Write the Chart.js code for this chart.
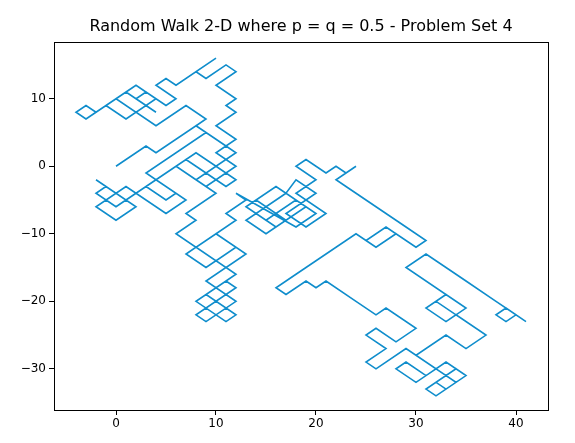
<!DOCTYPE html>
<html>
<head>
<style>
  html, body { margin: 0; padding: 0; background: #fff; }
  #wrap { width: 575px; height: 443px; }
</style>
<script src="https://cdn.jsdelivr.net/npm/chart.js"></script>
</head>
<body>
<div id="wrap"><canvas id="walk"></canvas></div>
<script>
// walk vertices (each leg is a diagonal run of steps)
const walkX = [0,3,4,8,11,10,12,9,8,10,12,11,9,7,4,2,0,-2,-1,-2,2,0,-2,1,5,7,4,3,5,6,3,9,11,12,10,12,11,12,10,12,11,9,8,10,6,5,4,6,5,3,2,4,1,0,2,1,-1,-2,-3,-4,-3,-2,0,2,4,2,4,7,9,8,10,12,10,8,6,8,10,7,8,6,8,7,9,10,8,10,12,10,11,9,12,9,8,12,11,8,11,12,9,12,11,13,10,12,11,13,12,18,20,16,13,15,18,16,14,17,15,13,17,19,16,14,17,18,20,17,19,21,18,20,18,19,21,22,23,24,22,23,29,31,30,28,26,25,27,28,26,24,18,16,17,19,20,21,24,26,27,30,28,26,25,27,25,26,29,32,30,28,29,31,33,34,32,33,35,34,31,32,34,30,33,35,37,34,33,31,33,35,34,32,33,29,31,33,35,38,40,39,38,39,41];
const walkY = [0,3,2,6,3,2,0,-3,-2,0,-2,-3,-1,1,-2,-4,-6,-4,-3,-2,-6,-8,-6,-3,-7,-5,-2,-3,-5,-4,-1,5,3,4,6,8,9,10,12,14,15,13,14,16,12,13,12,10,9,11,10,8,11,10,8,7,9,8,9,8,7,8,10,12,10,8,6,9,7,6,4,2,0,2,0,-2,-4,-7,-8,-10,-12,-13,-15,-14,-12,-10,-12,-14,-15,-17,-20,-23,-22,-18,-17,-20,-23,-22,-19,-16,-15,-13,-10,-8,-7,-5,-4,-9,-7,-3,-6,-8,-5,-3,-5,-8,-10,-8,-4,-6,-9,-7,-4,-2,-4,-7,-9,-7,-4,-2,0,1,-1,0,-1,0,-2,-3,-9,-11,-12,-10,-12,-11,-9,-10,-12,-10,-16,-18,-19,-17,-18,-17,-20,-22,-21,-24,-26,-24,-25,-27,-29,-30,-27,-30,-32,-30,-29,-31,-29,-30,-32,-33,-31,-30,-33,-34,-32,-28,-25,-27,-25,-22,-23,-21,-19,-21,-22,-20,-19,-15,-13,-15,-17,-20,-22,-23,-22,-21,-23];
const xTicks = [0, 10, 20, 30, 40];
const yTicks = [-30, -20, -10, 0, 10];

const points = walkX.map((x, i) => ({ x: x, y: walkY[i] }));

const frame = {
  id: 'frame',
  afterDraw(chart) {
    const a = chart.chartArea, c = chart.ctx;
    c.save();
    c.strokeStyle = '#000';
    c.lineWidth = 1;
    c.strokeRect(a.left + 0.5, a.top + 0.5, a.right - a.left, a.bottom - a.top);
    c.fillStyle = '#000';
    c.font = '16px "DejaVu Sans"';
    c.textAlign = 'center';
    c.textBaseline = 'middle';
    c.fillText('Random Walk 2-D where p = q = 0.5 - Problem Set 4', (a.left + a.right) / 2, 27);
    c.restore();
  }
};

const tickFont = { family: '"DejaVu Sans"', size: 12 };

new Chart(document.getElementById('walk'), {
  type: 'line',
  data: {
    datasets: [{
      data: points,
      borderColor: '#0f8dcc',
      borderWidth: 1.6,
      pointRadius: 0,
      fill: false,
      tension: 0
    }]
  },
  options: {
    responsive: true,
    maintainAspectRatio: false,
    animation: false,
    layout: { padding: { top: 42, right: 27, left: 0, bottom: 0 } },
    plugins: { legend: { display: false }, tooltip: { enabled: false } },
    scales: {
      x: {
        type: 'linear',
        min: -6.2,
        max: 43.2,
        afterBuildTicks: s => { s.ticks = xTicks.map(v => ({ value: v })); },
        afterFit: s => { s.height = 33; },
        ticks: { color: '#000', font: tickFont, padding: 2, maxRotation: 0 },
        grid: { drawOnChartArea: false, drawTicks: true, tickLength: 5, color: '#000' },
        border: { display: false }
      },
      y: {
        type: 'linear',
        min: -36.1,
        max: 18.4,
        afterBuildTicks: s => { s.ticks = yTicks.map(v => ({ value: v })); },
        afterFit: s => { s.width = 54; },
        ticks: { color: '#000', font: tickFont, padding: 3, callback: v => v < 0 ? '\u2212' + Math.abs(v) : String(v) },
        grid: { drawOnChartArea: false, drawTicks: true, tickLength: 5, color: '#000' },
        border: { display: false }
      }
    }
  },
  plugins: [frame]
});
</script>
</body>
</html>
